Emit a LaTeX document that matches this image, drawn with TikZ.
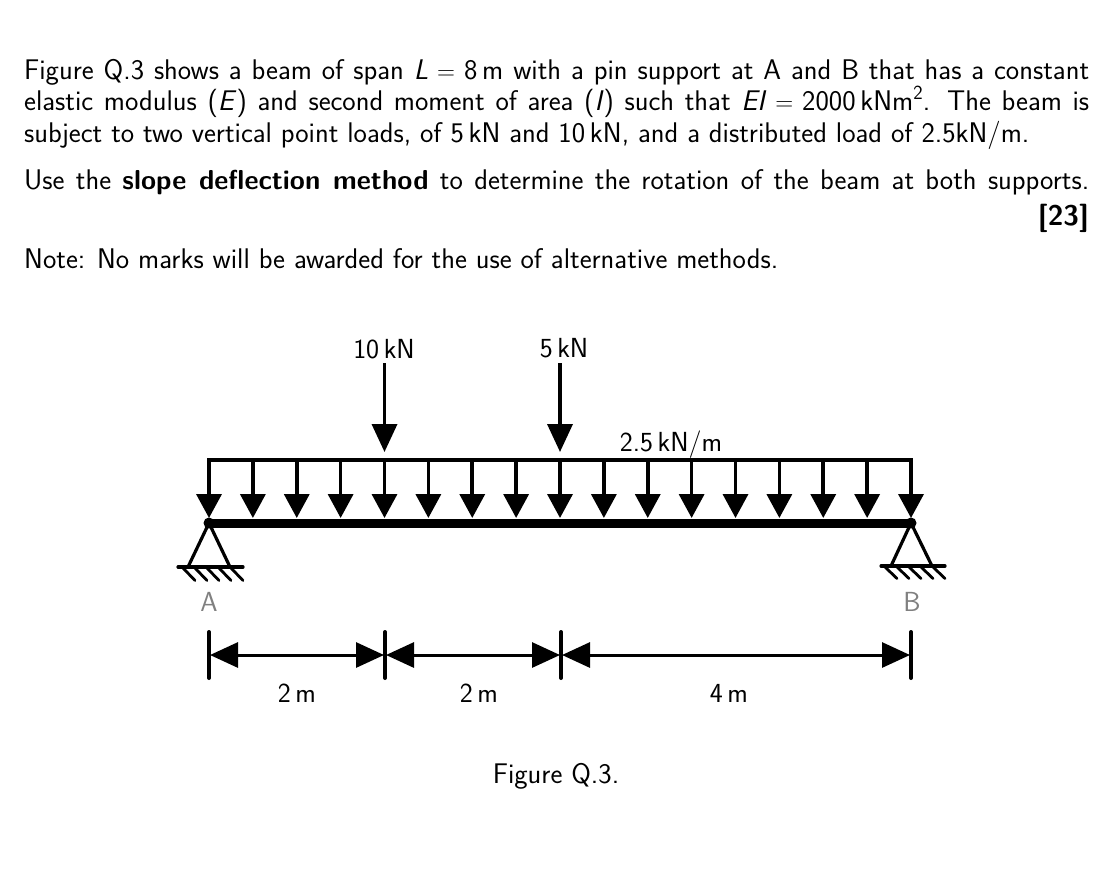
\documentclass[tikz,border=0pt]{standalone}
\usepackage{fontspec}
\usetikzlibrary{arrows.meta}
\newcommand{\bodysize}{\fontsize{28.4}{31.5}\selectfont}
\newcommand{\labelsize}{\fontsize{27.6}{30}\selectfont}
\newcommand{\bigeq}{\kern9pt$=$\kern9pt}
\newcommand{\fullline}[1]{\hbox to 1065pt{#1}}
\newcommand{\sqmark}{\raisebox{11.5pt}{\fontsize{20}{20}\selectfont 2}}
\tikzset{
  textline/.style={anchor=base west,inner sep=0pt,font=\sffamily\bodysize},
  dimlabel/.style={anchor=base,inner sep=0pt,font=\sffamily\labelsize},
  supportlabel/.style={anchor=base,inner sep=0pt,font=\sffamily\labelsize,text=black!50},
  udlarrow/.style={line width=3.6pt,-{Triangle[length=24pt,width=25pt,sep=0pt]},shorten >=0pt},
  pointload/.style={line width=3.6pt,-{Triangle[length=28pt,width=25pt]}},
  beamline/.style={line width=9pt},
  udlline/.style={line width=3.4pt,line cap=rect},
  supportline/.style={line width=3.2pt,line cap=round,line join=round},
  hatchline/.style={line width=2.8pt,line cap=round},
  dimline/.style={line width=3pt,{Triangle[length=28pt,width=25pt]}-{Triangle[length=28pt,width=25pt]}},
  tickline/.style={line width=4pt,line cap=round},
  pinblob/.style={circle,fill=black,inner sep=0pt,minimum size=11pt}
}
\begin{document}
\begin{tikzpicture}[x=1pt,y=-1pt]
\useasboundingbox (0,0) rectangle (1115,889);
% text block
\node[textline] (l1) at (24,79) {\fullline{Figure Q.3 shows a beam of span \textit{L}\bigeq 8\,m with a pin support at A and B that has a constant}};
\node[textline] (l2) at (24,110.5) {\fullline{elastic modulus (\textit{E}) and second moment of area (\textit{I}) such that \textit{EI}\bigeq 2000\,kNm\sqmark. The beam is}};
\node[textline] (l3) at (24,142) {subject to two vertical point loads, of 5\,kN and 10\,kN, and a distributed load of 2.5kN/m.};
\node[textline] (l4) at (24,189) {\fullline{Use the {\fontsize{27.4}{31.5}\selectfont\textbf{slope deflection method}} to determine the rotation of the beam at both supports.}};
\node[textline,anchor=base east] (l5) at (1089,225) {\textbf{[23]}};
\node[textline] (l6) at (24,268) {Note: No marks will be awarded for the use of alternative methods.};
% key points
\coordinate (A) at (209,523);
\coordinate (B) at (911,523);
\coordinate (UL) at (209,460);
\coordinate (UR) at (911,460);
% distributed load
\draw[udlline] (UL) -- (UR);
\foreach \i in {0,...,16}{
  \coordinate (ut\i) at (209+43.875*\i,460);
  \coordinate (ub\i) at (209+43.875*\i,518);
  \draw[udlarrow] (ut\i) -- (ub\i);
}
% beam
\draw[beamline] (A) -- (B);
\node[pinblob] (pinA) at (A) {};
\node[pinblob] (pinB) at (B) {};
% point loads
\coordinate (p1t) at (384.5,363);
\coordinate (p1b) at (384.5,452);
\coordinate (p2t) at (560,363);
\coordinate (p2b) at (560,452);
\draw[pointload] (p1t) -- (p1b);
\draw[pointload] (p2t) -- (p2b);
% support A
\coordinate (Al) at (188,567);
\coordinate (Ar) at (230,567);
\coordinate (Ag1) at (178,567);
\coordinate (Ag2) at (243,567);
\draw[supportline] (Al) -- (A) -- (Ar);
\draw[supportline] (Ag1) -- (Ag2);
\foreach \x in {195,207,219,231,243}{
  \coordinate (ha\x) at (\x-12,568);
  \coordinate (hb\x) at (\x,580.5);
  \draw[hatchline] (ha\x) -- (hb\x);
}
% support B
\coordinate (Bl) at (891,566);
\coordinate (Br) at (932,566);
\coordinate (Bg1) at (881,566);
\coordinate (Bg2) at (945,566);
\draw[supportline] (Bl) -- (B) -- (Br);
\draw[supportline] (Bg1) -- (Bg2);
\foreach \x in {897,909,921,933,945}{
  \coordinate (hc\x) at (\x-12,567);
  \coordinate (hd\x) at (\x,578.5);
  \draw[hatchline] (hc\x) -- (hd\x);
}
% dimensions
\coordinate (d1) at (209,655);
\coordinate (d2) at (385,655);
\coordinate (d3) at (561,655);
\coordinate (d4) at (911,655);
\foreach \n in {1,2,3,4}{
  \draw[tickline] ([yshift=23pt]d\n) -- ([yshift=-23pt]d\n);
}
\draw[dimline,shorten <=1pt,shorten >=1pt] (d1) -- (d2);
\draw[dimline,shorten <=1pt,shorten >=1pt] (d2) -- (d3);
\draw[dimline,shorten <=1pt,shorten >=1pt] (d3) -- (d4);
% labels
\node[dimlabel] (t10) at (384,358) {10\,kN};
\node[dimlabel] (t5) at (564,357) {5\,kN};
\node[dimlabel] (tq) at (671,451) {2.5\,kN/m};
\node[supportlabel] (ta) at (209,611) {A};
\node[supportlabel] (tb) at (912,611) {B};
\node[dimlabel] (d2a) at (297,702) {2\,m};
\node[dimlabel] (d2b) at (479,702) {2\,m};
\node[dimlabel] (d4a) at (729,702) {4\,m};
\node[textline,anchor=base] (cap) at (556,783) {Figure Q.3.};
\end{tikzpicture}
\end{document}
